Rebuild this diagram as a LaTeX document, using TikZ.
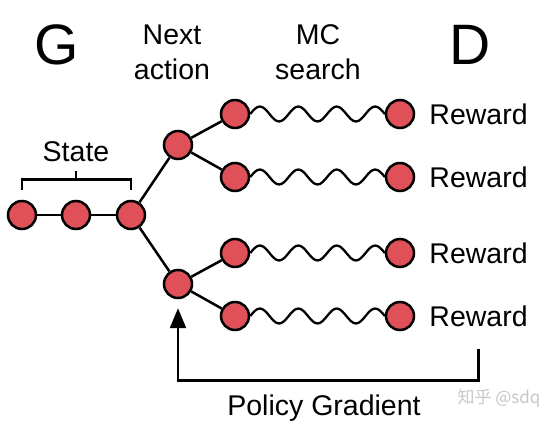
\documentclass[tikz,border=0pt]{standalone}
\usepackage{fontspec}
\setmainfont{Liberation Sans}
\newfontfamily\cjk{Noto Sans CJK SC}
\usetikzlibrary{arrows.meta, positioning, calc}
\definecolor{ballRed}{RGB}{224,80,88}
\newcommand{\waveq}{9.61}
\newcommand{\wavea}{7.5}

\begin{document}
\begin{tikzpicture}[
    x=1pt, y=1pt,
    ball/.style={circle, draw, fill=ballRed, line width=2.5pt, minimum size=28pt, inner sep=0pt},
    lbl/.style={font=\fontsize{28.5}{35}\selectfont, align=center, inner sep=2pt},
    big/.style={font=\fontsize{57}{60}\selectfont, inner sep=0pt},
    link/.style={line width=2.5pt},
    wave/.style={line width=2.3pt},
    arrow/.style={-{Triangle[length=20pt, width=16pt]}, line width=2.5pt}
  ]
  \useasboundingbox (0,0) rectangle (557,426);

  % Headings
  \node[big] (gen) at (57,381) {G};
  \node[lbl] (next) at (172,374) {Next\\action};
  \node[lbl] (mcs) at (318,374) {MC\\search};
  \node[big] (dis) at (470,381) {D};

  % State sequence
  \node[ball] (st1) at (22,211) {};
  \node[ball] (st2) at (76,211) {};
  \node[ball] (st3) at (131,211) {};
  \draw[link] (st1) -- (st2);
  \draw[link] (st2) -- (st3);
  \draw[link] ([yshift=10pt]st1.north) |- ([yshift=20pt]st3.north) -- ([yshift=10pt]st3.north);
  \draw[link] ([yshift=20pt]st2.north) -- ++(0,9);
  \node[lbl] (state) at (76,274) {State};

  % Next actions
  \node[ball] (na1) at (178,281) {};
  \node[ball] (na2) at (178,142) {};
  \draw[link] (st3) -- (na1);
  \draw[link] (st3) -- (na2);

  % MC rollouts
  \node[ball] (mc1) at (235,312) {};
  \node[ball] (mc2) at (235,249) {};
  \node[ball] (mc3) at (235,173) {};
  \node[ball] (mc4) at (235,110) {};
  \draw[link] (na1) -- (mc1);
  \draw[link] (na1) -- (mc2);
  \draw[link] (na2) -- (mc3);
  \draw[link] (na2) -- (mc4);

  \node[ball] (rw1) at (400,312) {};
  \node[ball] (rw2) at (400,249) {};
  \node[ball] (rw3) at (400,173) {};
  \node[ball] (rw4) at (400,110) {};

  \foreach \r in {1,...,4} {
    \draw[wave] (mc\r.east) sin ++(\waveq,\wavea)
      \foreach \k in {1,2,3} {cos ++(\waveq,-\wavea) sin ++(\waveq,-\wavea) cos ++(\waveq,\wavea) sin ++(\waveq,\wavea)}
      cos ++(\waveq,-\wavea) -- (rw\r.west);
    \node[lbl, right=12pt of rw\r] (rl\r) {Reward};
  }

  % Policy gradient feedback
  \coordinate[below=20pt of rl4] (pgstart);
  \draw[arrow, shorten >=9pt] (pgstart) -- ++(0,-32) -| (na2);
  \node[lbl] (pg) at (324,18) {Policy Gradient};

  \node[font=\cjk\fontsize{17}{20}\selectfont, text=black!22] (mark) at (499,28) {知乎 @sdq};
\end{tikzpicture}
\end{document}
